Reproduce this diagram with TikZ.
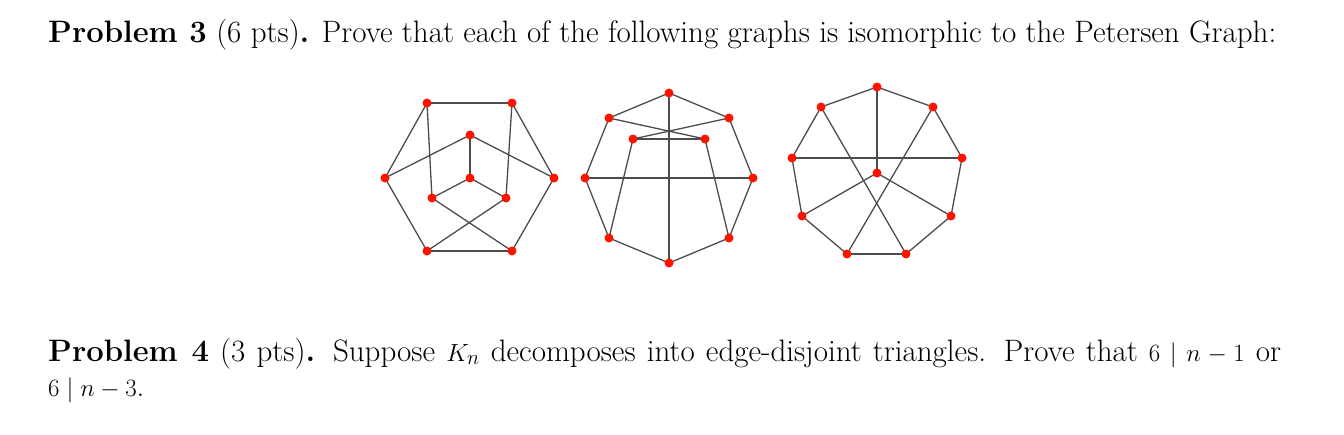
\documentclass[tikz,border=0pt]{standalone}
\usepackage{amsmath}
\begin{document}
\begin{tikzpicture}[x=1pt,y=-1pt,
  v/.style={circle,fill=red!85!orange,inner sep=0pt,minimum size=9pt},
  e/.style={draw=black!70,line width=1.3pt},
  txt/.style={anchor=base west,inner sep=0pt,font=\fontsize{31}{35}\selectfont}]
\useasboundingbox (0,0) rectangle (1344,434);
\node[txt] (p3) at (48,42) {\textbf{Problem 3} (6 pts)\textbf{.} Prove that each of the following graphs is isomorphic to the Petersen Graph:};
\node[txt] (p4a) at (48,361) {\makebox[1233pt][s]{\textbf{Problem 4} (3 pts)\textbf{.} Suppose $K_n$ decomposes into edge-disjoint triangles. Prove that $6\mid n-1$ or}};
\node[txt] (p4b) at (48,396) {$6\mid n-3$.};
% graph 1
\foreach \n/\x/\y in {a/427/103,b/512/103,c/385/178,d/554/178,e/427/251,f/512/251,g/470/135,h/470/178,i/432/198,j/506/198}
  \coordinate (A\n) at (\x,\y);
\foreach \p/\q in {a/b,a/c,b/d,c/e,d/f,e/f,a/i,b/j,g/c,g/d,g/h,h/i,h/j,i/f,j/e}
  \draw[e] (A\p) -- (A\q);
\foreach \n in {a,b,c,d,e,f,g,h,i,j} \node[v] at (A\n) {};
% graph 2
\foreach \n/\x/\y in {t/669/93,ul/609/118,ur/729/118,il/633/139,ir/705/139,l/585/178,r/753/178,bl/609/238,br/729/238,b/669/263}
  \coordinate (B\n) at (\x,\y);
\foreach \p/\q in {t/ul,t/ur,t/b,ul/ir,ur/il,il/ir,ul/l,ur/r,l/r,l/bl,r/br,bl/b,br/b,il/bl,ir/br}
  \draw[e] (B\p) -- (B\q);
\foreach \n in {t,ul,ur,il,ir,l,r,bl,br,b} \node[v] at (B\n) {};
% graph 3
\foreach \n/\x/\y in {t/877/87,ul/821/107,ur/933/107,l/792/158,r/962/158,c/877/173,bl/802/216,br/951/216,bbl/847/254,bbr/906/254}
  \coordinate (C\n) at (\x,\y);
\foreach \p/\q in {t/ul,t/ur,t/c,ul/l,ur/r,l/r,ul/bbr,ur/bbl,l/bl,r/br,c/bl,c/br,bl/bbl,br/bbr,bbl/bbr}
  \draw[e] (C\p) -- (C\q);
\foreach \n in {t,ul,ur,l,r,c,bl,br,bbl,bbr} \node[v] at (C\n) {};
\end{tikzpicture}
\end{document}
